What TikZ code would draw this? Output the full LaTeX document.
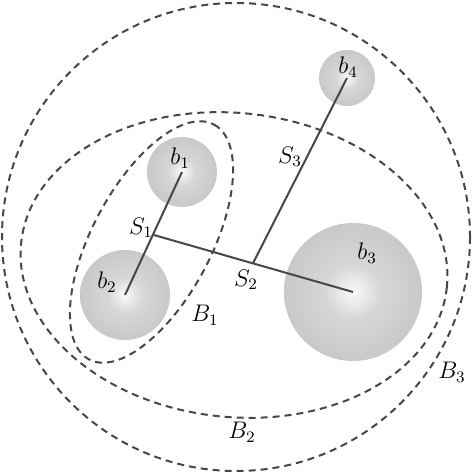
\documentclass[tikz,border=0pt]{standalone}
\usetikzlibrary{calc}
\pgfdeclareradialshading{ballshade}{\pgfpoint{0bp}{0bp}}{color(0bp)=(gray!4); color(10bp)=(gray!32); color(30bp)=(gray!46); color(50bp)=(gray!56)}

\begin{document}
\begin{tikzpicture}[x=0.5pt, y=-0.5pt,
  every node/.style = {font=\fontsize{11.5}{13}\selectfont, inner sep=0pt},
  ball/.style = {circle, shade, shading=ballshade, draw=none},
  link/.style = {draw=black!72, line width=1pt},
  bound/.style = {draw=black!72, line width=1pt, dash pattern=on 3.5pt off 2.5pt}]
  \useasboundingbox (0,0) rectangle (474,474);
  % balls
  \node[ball, minimum size=35pt] (b1) at (182,172) {};
  \node[ball, minimum size=45pt] (b2) at (125,295) {};
  \node[ball, minimum size=69pt] (b3) at (353,292) {};
  \node[ball, minimum size=28pt] (b4) at (347,78) {};
  % bounds
  \draw[bound] (236,237) circle [radius=234];
  \draw[bound, rotate around={-6:(234,265)}] (234,265) ellipse [x radius=214, y radius=152];
  \draw[bound, rotate around={62:(151.5,242)}] (151.5,242) ellipse [x radius=133, y radius=59.5];
  % links
  \coordinate (S1) at ($(b1.center)!0.51!(b2.center)$);
  \coordinate (S2) at ($(S1)!0.5!(b3.center)$);
  \draw[link] (b1.center) -- (b2.center);
  \draw[link] (S1) -- (b3.center);
  \draw[link] (S2) -- (b4.center);
  % labels
  \node at (180,158) {$b_1$};
  \node at (107,282) {$b_2$};
  \node at (367,253) {$b_3$};
  \node at (348,67) {$b_4$};
  \node at (141,228) {$S_1$};
  \node at (246,280) {$S_2$};
  \node at (290,157) {$S_3$};
  \node at (205,315) {$B_1$};
  \node at (242,432) {$B_2$};
  \node at (452,372) {$B_3$};
\end{tikzpicture}
\end{document}
